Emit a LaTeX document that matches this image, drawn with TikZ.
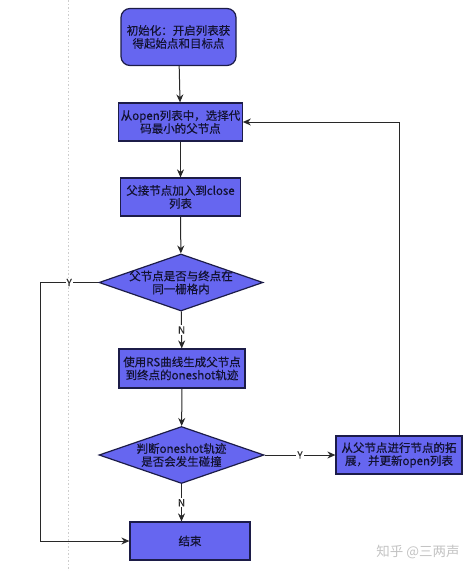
\documentclass[tikz,border=0pt]{standalone}
\usepackage{fontspec}
\setmainfont{Noto Sans CJK SC}
\newfontfamily\boxfont{Noto Sans CJK SC}[FakeBold=0.35]
\usetikzlibrary{arrows.meta,positioning,shapes.geometric}
\definecolor{flowfill}{RGB}{102,102,240}
\definecolor{flowedge}{RGB}{28,28,72}
\definecolor{flowtext}{RGB}{18,18,48}
\definecolor{flowline}{RGB}{40,40,40}
\definecolor{guidegray}{RGB}{205,205,205}
\definecolor{markgray}{RGB}{195,195,195}
\tikzset{
  stepbox/.style={
    rectangle,
    draw=flowedge,
    fill=flowfill,
    line width=1.2pt,
    align=center,
    text=flowtext,
    inner sep=2pt,
    font=\boxfont\fontsize{11.5}{13}\selectfont
  },
  stepstart/.style={
    stepbox,
    rounded corners=9pt
  },
  stepcheck/.style={
    diamond,
    draw=flowedge,
    fill=flowfill,
    line width=1.2pt,
    inner sep=0pt
  },
  checktext/.style={
    align=center,
    text=flowtext,
    font=\boxfont\fontsize{11.5}{13}\selectfont
  },
  flowarrow/.style={
    -{Stealth[length=8pt,width=7pt]},
    line width=1pt,
    draw=flowline
  },
  flowlabel/.style={
    fill=white,
    inner sep=1pt,
    text=flowline,
    font=\boxfont\fontsize{10}{11}\selectfont
  }
}

\begin{document}
\begin{tikzpicture}[x=1pt,y=-1pt]
\useasboundingbox (0,0) rectangle (474,571);
\draw[guidegray, dash pattern=on 1.5pt off 2pt] (68,0) -- (68,571);

\node[stepstart, minimum width=115pt, minimum height=57pt] (init) at (178.5,37) {初始化：开启列表获\\得起始点和目标点};
\node[stepbox, minimum width=120pt, minimum height=38pt] (select) at (180.5,122) {从open列表中，选择代\\码最小的父节点};
\node[stepbox, minimum width=120pt, minimum height=38pt] (close) at (180.5,197) {父接节点加入到close\\列表};
\node[stepcheck, minimum width=164pt, minimum height=57pt,
  label={[checktext]center:父节点是否与终点在\\同一栅格内}] (inside) at (181,282.5) {};
\node[stepbox, minimum width=126pt, minimum height=39pt] (curve) at (182,368.5) {使用RS曲线生成父节点\\到终点的oneshot轨迹};
\node[stepcheck, minimum width=165pt, minimum height=57pt,
  label={[checktext]center:判断oneshot轨迹\\是否会发生碰撞}] (collide) at (181.5,455) {};
\node[stepbox, minimum width=126pt, minimum height=38pt] (expand) at (399,455) {从父节点进行节点的拓\\展，并更新open列表};
\node[stepbox, minimum width=120pt, minimum height=38pt] (finish) at (190,541) {结束};

\node[text=markgray, font=\fontsize{13.5}{15}\selectfont] (mark) at (418,552) {知乎 @三两声};

\draw[flowarrow] (init) -- (select);
\draw[flowarrow] (select) -- (close);
\draw[flowarrow] (close) -- (inside);
\draw[flowarrow] (inside) -- node[flowlabel] {N} (curve);
\draw[flowarrow] (curve) -- (collide);
\draw[flowarrow] (collide) -- node[flowlabel] {Y} (expand);
\draw[flowarrow] (collide.south) -- node[flowlabel] {N} (collide.south |- finish.north);
\coordinate (leftturn) at (40,282.5);
\draw[flowarrow] (inside.west) -- node[flowlabel] {Y} (leftturn) |- (finish.west);
\draw[flowarrow] (expand.north) |- (select.east);
\end{tikzpicture}
\end{document}
